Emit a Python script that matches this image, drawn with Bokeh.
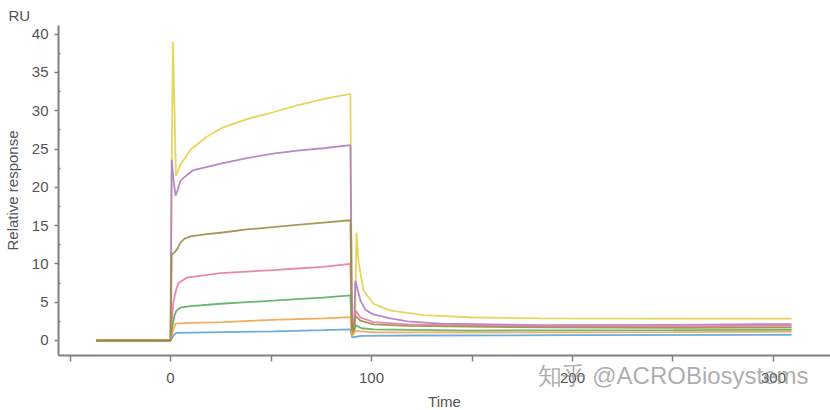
from bokeh.plotting import figure
from bokeh.models import FixedTicker, Label, Range1d
from bokeh.embed import file_html
from bokeh.resources import INLINE

# ---- data ----
t_yellow = [-37, -20, 0, 0.5, 1.2, 2.0, 2.7, 3.5, 5, 10, 18, 26, 38, 51, 63, 76, 89.5,
            90.3, 91.8, 92.5, 93.5, 96, 101, 109.5, 126, 151, 184, 250, 309]
v_yellow = [0, 0, 0, 20, 39.0, 30, 21.5, 22.0, 23.0, 24.9, 26.6, 27.8, 28.9, 29.8, 30.7, 31.5, 32.2,
            1.5, 1.5, 14.1, 10.4, 6.5, 4.8, 3.9, 3.3, 3.0, 2.9, 2.85, 2.85]

t_purple = [-37, -20, 0, 0.6, 1.5, 2.5, 3.5, 5, 11, 25, 38, 51, 63, 76, 89.5,
            90.3, 91.3, 92, 94.5, 97, 101, 109.5, 118, 134, 184, 250, 309]
v_purple = [0, 0, 0, 23.6, 21.0, 18.9, 19.6, 20.9, 22.2, 23.1, 23.8, 24.4, 24.8, 25.1, 25.5,
            1.5, 2.0, 7.8, 5.2, 4.0, 3.4, 2.9, 2.5, 2.2, 2.0, 2.05, 2.15]

t_brown = [-37, -20, 0, 0.6, 2.0, 3.5, 5, 7, 10, 18, 26, 38, 51, 63, 76, 89.5,
           90.3, 91.3, 92, 94.5, 101, 118, 184, 250, 309]
v_brown = [0, 0, 0, 11.2, 11.5, 12.0, 12.8, 13.3, 13.6, 13.9, 14.1, 14.5, 14.8, 15.1, 15.4, 15.7,
           1.2, 1.6, 3.2, 2.6, 2.1, 1.9, 1.7, 1.65, 1.7]

t_pink = [-37, -20, 0, 0.8, 1.5, 3, 4, 8, 25, 38, 51, 63, 76, 89.5,
          90.3, 91.3, 92, 94.5, 101, 118, 184, 250, 309]
v_pink = [0, 0, 0, 3.0, 5.2, 6.8, 7.5, 8.2, 8.8, 9.0, 9.2, 9.4, 9.6, 10.0,
          1.2, 2.0, 3.9, 3.0, 2.4, 2.1, 1.85, 1.85, 1.95]

t_green = [-37, -20, 0, 1, 2, 3, 5, 10, 25, 38, 51, 63, 76, 89.5,
           90.3, 91.3, 92, 95, 101, 150, 250, 309]
v_green = [0, 0, 0, 2.0, 3.3, 3.9, 4.3, 4.5, 4.8, 5.0, 5.2, 5.4, 5.6, 5.9,
           0.9, 1.2, 2.0, 1.6, 1.45, 1.3, 1.35, 1.4]

t_orange = [-37, -20, 0, 1.5, 2.5, 10, 26, 51, 76, 89.5,
            90.3, 91.3, 92, 101, 150, 250, 309]
v_orange = [0, 0, 0, 1.5, 2.2, 2.3, 2.4, 2.7, 2.9, 3.05,
            0.6, 0.9, 1.25, 1.05, 1.05, 1.1, 1.15]

t_blue = [-37, -20, 0, 2, 3, 26, 51, 76, 89.5,
          90.3, 95, 120, 200, 309]
v_blue = [0, 0, 0, 0.8, 1.0, 1.1, 1.2, 1.35, 1.45,
          0.4, 0.6, 0.65, 0.7, 0.75]

x_ticks = [-50, 0, 50, 100, 150, 200, 250, 300]
x_labels = {-50: "", "-50": "", "\u221250": "", 0: "0", 50: "", 100: "100",
            150: "", 200: "200", 250: "", 300: "300"}
y_ticks = [0, 5, 10, 15, 20, 25, 30, 35, 40]
y_minor = [2.5, 7.5, 12.5, 17.5, 22.5, 27.5, 32.5, 37.5]

series = [
    (t_yellow, v_yellow, "#e6d04a"),
    (t_purple, v_purple, "#b07cc6"),
    (t_pink, v_pink, "#e77aa8"),
    (t_green, v_green, "#5aae62"),
    (t_blue, v_blue, "#5aa4dc"),
    (t_orange, v_orange, "#f2a44c"),
    (t_brown, v_brown, "#a08c44"),
]

# plot frame covers the whole canvas; axes are pinned at fixed data locations
XS, XE = -84.58, 328.36
YS, YE = -9.14, 44.39
AX_X, AX_Y = -55.7, -1.96   # where the y axis / x axis lines sit
Y_TOP = 41.1

p = figure(width=830, height=410, output_backend="svg", toolbar_location=None,
           x_range=Range1d(XS, XE), y_range=Range1d(YS, YE), min_border=0)
p.outline_line_color = None
p.xgrid.grid_line_color = None
p.ygrid.grid_line_color = None
p.background_fill_color = "white"
p.border_fill_color = "white"

for t, v, c in series:
    p.line(t, v, line_color=c, line_width=1.8, line_alpha=0.9)

FONT = "Liberation Sans"
for ax in (p.xaxis[0], p.yaxis[0]):
    ax.axis_line_color = "#808080"
    ax.axis_line_width = 2
    ax.major_tick_line_color = "#808080"
    ax.major_tick_line_width = 1.5
    ax.minor_tick_line_color = "#808080"
    ax.minor_tick_line_width = 1.5
    ax.major_label_text_color = "#555555"
    ax.major_label_text_font = FONT
    ax.major_label_text_font_size = "15px"
    ax.axis_label_text_color = "#555555"
    ax.axis_label_text_font = FONT
    ax.axis_label_text_font_size = "15px"
    ax.axis_label_text_font_style = "normal"

p.xaxis.fixed_location = AX_Y
p.xaxis.bounds = (AX_X, XE)
p.xaxis.ticker = FixedTicker(ticks=x_ticks)
p.xaxis.major_label_overrides = x_labels
p.xaxis.major_tick_out = 6
p.xaxis.major_tick_in = 0
p.xaxis.minor_tick_out = 0
p.xaxis.minor_tick_in = 0
p.xaxis.major_label_standoff = 11
p.xaxis.axis_label = "Time"
p.xaxis.axis_label_standoff = 7

p.yaxis.fixed_location = AX_X
p.yaxis.bounds = (AX_Y, Y_TOP)
p.yaxis.ticker = FixedTicker(ticks=y_ticks, minor_ticks=y_minor)
p.yaxis.major_tick_out = 4
p.yaxis.major_tick_in = 0
p.yaxis.minor_tick_out = 0
p.yaxis.minor_tick_in = 2
p.yaxis.major_label_standoff = 6
p.yaxis.axis_label = "Relative response"
p.yaxis.axis_label_standoff = 8

p.add_layout(Label(x=-80.6, y=42.43, text="RU",
                   text_font=FONT, text_font_size="15px", text_color="#555555",
                   text_baseline="middle", text_align="left"))
p.add_layout(Label(x=182.6, y=-4.57, text="知乎 @ACROBiosystems",
                   text_font=FONT, text_font_size="24px", text_color="#8a8a8a",
                   text_alpha=0.7, text_baseline="middle", text_align="left"))

open("out.html", "w").write(file_html(p, INLINE))
